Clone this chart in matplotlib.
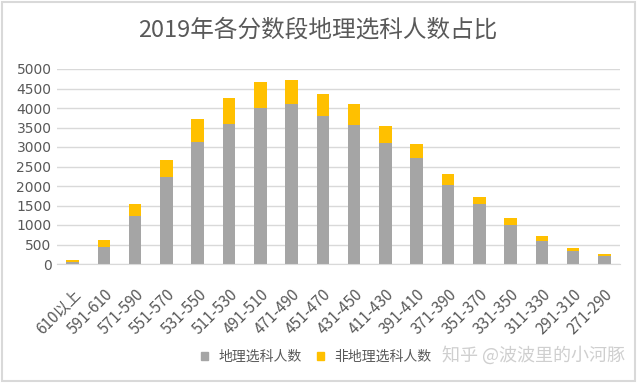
import matplotlib.pyplot as plt
from matplotlib.patches import Rectangle, Patch

plt.rcParams['font.family'] = ['Noto Sans CJK SC', 'DejaVu Sans']

categories = ["610以上", "591-610", "571-590", "551-570", "531-550", "511-530",
              "491-510", "471-490", "451-470", "431-450", "411-430", "391-410",
              "371-390", "351-370", "331-350", "311-330", "291-310", "271-290"]
geo = [40, 430, 1230, 2230, 3130, 3600, 4000, 4110, 3800,
       3570, 3090, 2730, 2030, 1530, 1000, 590, 330, 210]
non_geo = [55, 190, 320, 430, 600, 660, 660, 610, 560,
           520, 460, 350, 290, 200, 170, 120, 90, 50]
yticks = [0, 500, 1000, 1500, 2000, 2500, 3000, 3500, 4000, 4500, 5000]

gray = "#A5A5A5"
yellow = "#FFC000"
text_c = "#595959"


def main() -> None:
    fig = plt.figure(figsize=(6.4, 3.85), dpi=100)
    ax = fig.add_axes([57 / 640, 1 - 264 / 385, 563 / 640, 195 / 385])

    x = range(len(categories))
    ax.bar(x, geo, width=0.4, color=gray, zorder=2, label="地理选科人数")
    ax.bar(x, non_geo, bottom=geo, width=0.4, color=yellow, zorder=2,
           label="非地理选科人数")

    ax.set_ylim(0, 5000)
    ax.set_xlim(-0.5, len(categories) - 0.5)
    ax.set_yticks(yticks)
    ax.set_yticklabels([str(v) for v in yticks], fontsize=10, color=text_c,
                       family=['DejaVu Sans'])
    ax.set_xticks(list(x))
    ax.set_xticklabels(categories, rotation=45, ha="right", rotation_mode="anchor",
                       fontsize=11, color=text_c)
    ax.tick_params(axis="y", length=0, pad=4)
    ax.tick_params(axis="x", length=0, pad=16)
    ax.grid(axis="y", color="#D9D9D9", linewidth=1, zorder=0)
    for s in ["top", "right", "left"]:
        ax.spines[s].set_visible(False)
    ax.spines["bottom"].set_color("#D9D9D9")

    fig.text(318 / 640, 1 - 30 / 385, "2019年各分数段地理选科人数占比",
             ha="center", va="center", fontsize=17, color=text_c)

    handles = [Patch(color=gray), Patch(color=yellow)]
    fig.legend(handles, ["地理选科人数", "非地理选科人数"], loc="center",
               bbox_to_anchor=(316 / 640, 1 - 357 / 385), ncol=2, frameon=False,
               fontsize=10, handlelength=0.55, handleheight=0.55, handletextpad=0.7,
               columnspacing=1.1, labelcolor=text_c)

    # watermark
    fig.text(625 / 640, 1 - 355 / 385, "知乎 @波波里的小河豚", ha="right",
             va="center", fontsize=13, color="#CFCFCF")

    fig.patches.append(Rectangle((2 / 640, 4 / 385), 633 / 640, 379 / 385,
                                 transform=fig.transFigure, fill=False,
                                 edgecolor="#D9D9D9", linewidth=1.5))

    fig.savefig("out.png", dpi=100)


if __name__ == "__main__":
    main()
